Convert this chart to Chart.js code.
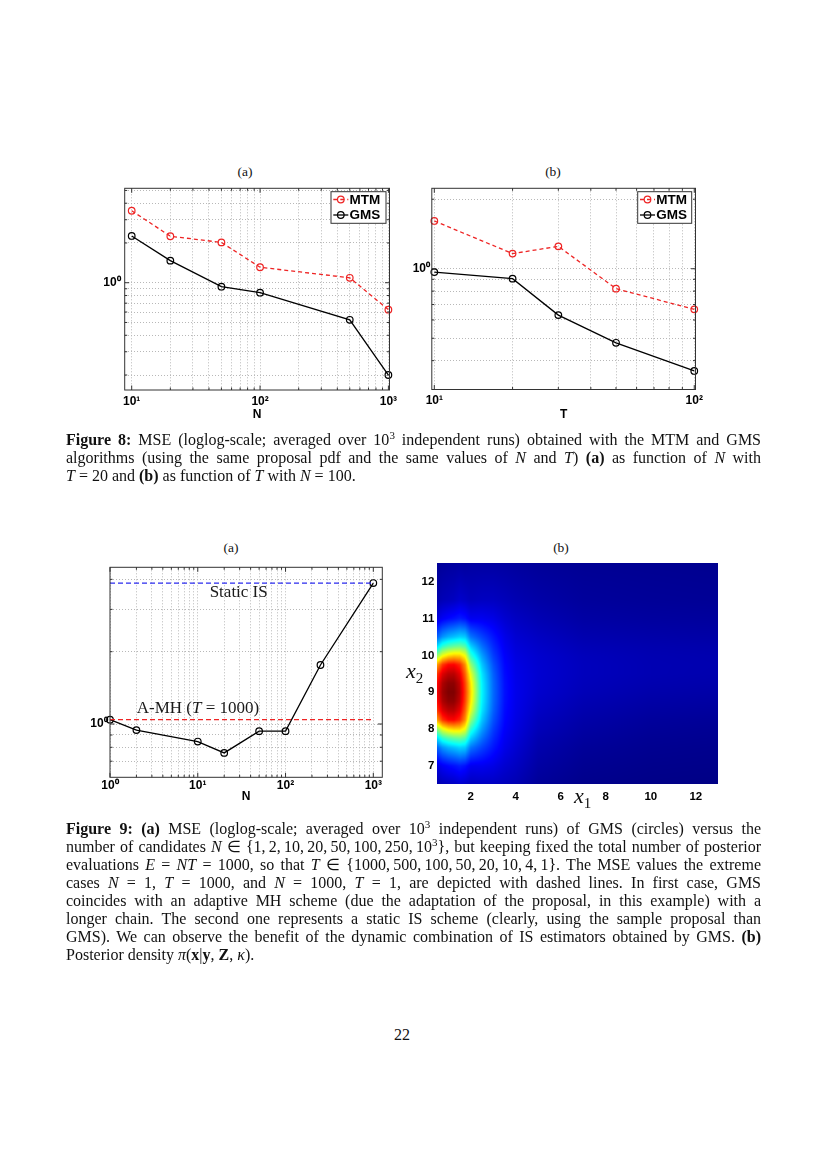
<!DOCTYPE html>
<html><head><meta charset="utf-8">
<script src="https://cdn.jsdelivr.net/npm/chart.js@4.4.1/dist/chart.umd.min.js"></script>
<style>
html,body{margin:0;padding:0;background:#fff}
#page{position:relative;width:827px;height:1169px;overflow:hidden;font-family:"Liberation Serif","Times New Roman",serif;color:#111}
.sub{position:absolute;width:60px;text-align:center;font-size:13.5px;line-height:14px}
.cap{position:absolute;left:66px;width:695px;font-size:16px;line-height:18px}
.cap div{text-align:justify;text-align-last:justify}
.cap div.last{text-align:left;text-align-last:left}
.sp{font-size:11px;vertical-align:6px;line-height:0}
canvas{position:absolute}
.ml{position:absolute;font-style:italic;font-size:22px;line-height:22px;color:#111;white-space:nowrap}
.ml span{font-style:normal;font-size:15px;position:relative;top:5px}
#pnum{position:absolute;left:372px;width:60px;text-align:center;top:1026px;font-size:16px;line-height:18px}
</style></head>
<body><div id="page">
<div class="sub" style="left:215px;top:165px">(a)</div>
<div class="sub" style="left:523px;top:165px">(b)</div>
<canvas id="c8a"></canvas>
<canvas id="c8b"></canvas>
<div class="cap" style="top:431px">
<div><b>Figure 8:</b> MSE (loglog-scale; averaged over 10<span class="sp">3</span> independent runs) obtained with the MTM and GMS</div>
<div>algorithms (using the same proposal pdf and the same values of <i>N</i> and <i>T</i>) <b>(a)</b> as function of <i>N</i> with</div>
<div class="last"><i>T</i> = 20 and <b>(b)</b> as function of <i>T</i> with <i>N</i> = 100.</div>
</div>
<div class="sub" style="left:201px;top:541px">(a)</div>
<div class="sub" style="left:531px;top:541px">(b)</div>
<canvas id="c9a"></canvas>
<canvas id="c9b"></canvas>
<div class="ml" style="left:406px;top:660px">x<span>2</span></div>
<div class="ml" style="left:574px;top:785px">x<span>1</span></div>
<div class="cap" style="top:820px">
<div><b>Figure 9: (a)</b> MSE (loglog-scale; averaged over 10<span class="sp">3</span> independent runs) of GMS (circles) versus the</div>
<div>number of candidates <i>N</i> ∈ {1,&#8201;2,&#8201;10,&#8201;20,&#8201;50,&#8201;100,&#8201;250,&#8201;10<span class="sp">3</span>}, but keeping fixed the total number of posterior</div>
<div>evaluations <i>E</i> = <i>NT</i> = 1000, so that <i>T</i> ∈ {1000,&#8201;500,&#8201;100,&#8201;50,&#8201;20,&#8201;10,&#8201;4,&#8201;1}. The MSE values the extreme</div>
<div>cases <i>N</i> = 1, <i>T</i> = 1000, and <i>N</i> = 1000, <i>T</i> = 1, are depicted with dashed lines. In first case, GMS</div>
<div>coincides with an adaptive MH scheme (due the adaptation of the proposal, in this example) with a</div>
<div>longer chain. The second one represents a static IS scheme (clearly, using the sample proposal than</div>
<div>GMS). We can observe the benefit of the dynamic combination of IS estimators obtained by GMS. <b>(b)</b></div>
<div class="last">Posterior density <i>π</i>(<b>x</b>|<b>y</b>, <b>Z</b>, <i>κ</i>).</div>
</div>
<div id="pnum">22</div>
</div>
<script>
// ---------------- data ----------------
const N8a = [10, 20, 50, 100, 500, 1000];
const mtm8a = [3.51, 2.25, 2.02, 1.31, 1.09, 0.625];
const gms8a = [2.26, 1.47, 0.933, 0.84, 0.524, 0.20];

const T8b = [10, 20, 30, 50, 100];
const mtm8b = [1.61, 1.163, 1.25, 0.82, 0.667];
const gms8b = [0.967, 0.906, 0.63, 0.478, 0.361];

const N9a = [1, 2, 10, 20, 50, 100, 250, 1000];
const gms9a = [1.042, 0.943, 0.845, 0.758, 0.934, 0.934, 1.76, 3.86];
const refN = [1, 1000];
const staticIS = [3.86, 3.86];
const amh = [1.042, 1.042];

// tick / grid positions
const grid8aX = [10,20,30,40,50,60,70,80,90,100,200,300,400,500,600,700,800,900,1000];
const grid8aY = [0.2,0.3,0.4,0.5,0.6,0.7,0.8,0.9,1,2,3,4,5];
const grid8bX = [10,20,30,40,50,60,70,80,90,100];
const grid8bY = [0.4,0.5,0.6,0.7,0.8,0.9,1,2];
const grid9aX = [1,2,3,4,5,6,7,8,9,10,20,30,40,50,60,70,80,90,100,200,300,400,500,600,700,800,900,1000];
const grid9aY = [0.7,0.8,0.9,1,2,3,4];
const ticks9bX = [2,4,6,8,10,12];
const ticks9bY = [7,8,9,10,11,12];

// posterior density grid (columns: x1 values, rows: x2 values), normalised
const hx1 = [0.5,0.75,1,1.25,1.5,1.75,2,2.5,3,3.5,4,5,7,10,13];
const hx2 = [6.5,7,7.5,7.75,8,8.25,8.5,8.75,9,9.25,9.5,9.75,10,10.25,10.5,11,11.5,12.5];
const densityCols = [
 [.044,.093,.22,.339,.51,.713,.817,.862,.88,.862,.817,.713,.51,.339,.22,.093,.044,.022],
 [.055,.116,.272,.417,.606,.825,.908,.955,.97,.955,.908,.825,.606,.417,.272,.116,.055,.027],
 [.06,.13,.30,.45,.65,.87,.94,.985,1,.985,.94,.87,.65,.45,.30,.13,.06,.03],
 [.065,.14,.315,.47,.67,.875,.942,.985,1,.985,.942,.875,.67,.47,.315,.14,.065,.031],
 [.076,.152,.333,.48,.665,.838,.898,.937,.95,.937,.898,.838,.665,.48,.333,.152,.076,.033],
 [.07,.14,.324,.451,.611,.734,.779,.81,.82,.81,.779,.734,.611,.451,.324,.14,.07,.03],
 [.06,.11,.24,.33,.42,.52,.6,.645,.66,.645,.6,.52,.42,.33,.24,.11,.06,.035],
 [.065,.11,.19,.235,.28,.32,.35,.365,.37,.365,.35,.32,.28,.235,.19,.11,.065,.035],
 [.065,.1,.145,.165,.185,.205,.22,.228,.23,.228,.22,.205,.185,.165,.145,.1,.065,.035],
 [.058,.08,.104,.113,.122,.13,.135,.139,.14,.139,.135,.13,.122,.113,.104,.08,.058,.033],
 [.05,.066,.081,.088,.094,.099,.102,.104,.105,.104,.102,.099,.094,.088,.081,.066,.05,.03],
 [.025,.035,.045,.05,.057,.062,.068,.073,.077,.079,.08,.079,.077,.072,.066,.052,.04,.025],
 [.012,.018,.025,.03,.035,.04,.045,.05,.055,.058,.06,.06,.058,.053,.047,.036,.028,.02],
 [.008,.012,.017,.02,.024,.028,.033,.038,.043,.047,.05,.05,.049,.046,.041,.031,.024,.018],
 [.006,.01,.014,.017,.02,.024,.029,.034,.039,.043,.046,.047,.046,.043,.038,.029,.022,.016]
];

// ---------------- helpers ----------------
const SUP = {0:'\u2070',1:'\u00B9',2:'\u00B2',3:'\u00B3'};
function decadeLabel(v){ const e=Math.log10(v), r=Math.round(e); return Math.abs(e-r)<1e-9 ? '10'+(SUP[r]||r) : ''; }
const SANS = '"Liberation Sans", Arial, Helvetica, sans-serif';
const TICK_FONT = {family:SANS, weight:'bold', size:12};
const RED = '#ee2424', BLUE = '#2a2aee';

function place(id, f, yW, xH) {
  const cv = document.getElementById(id);
  const cl = Math.floor(f.L - yW), ct = Math.floor(f.T - 18);
  const w = Math.ceil(f.R + 22) - cl, h = Math.ceil(f.B + xH + 12) - ct;
  cv.width = w; cv.height = h;
  cv.style.left = cl+'px'; cv.style.top = ct+'px'; cv.style.width = w+'px'; cv.style.height = h+'px';
  return {cv, padding:{left:0, top:f.T-ct, right:cl+w-f.R, bottom:ct+h-f.B-xH}, yW:f.L-cl, xH};
}
function axis(kind, type, min, max, vals, pad, size, opts) {
  opts = opts || {};
  return {
    type, min, max,
    afterBuildTicks: s => { s.ticks = vals.map(v => ({value:v})); },
    afterFit: s => { if (kind==='x') s.height = size; else s.width = size; },
    ticks: {autoSkip:false, maxRotation:0, minRotation:0, padding:pad, color:'#000',
            font: opts.font || TICK_FONT, callback: opts.label || (v => decadeLabel(v))},
    grid: {display: opts.grid !== false, color:'#b8b8b8', lineWidth:1, drawTicks:false},
    border: {display:false, dash:[1,2]},
    title: opts.title ? {display:true, text:opts.title, color:'#000', font:{family:SANS, weight:'bold', size:12}, padding:{top:0,bottom:0}} : {display:false}
  };
}
function pts(xs, ys){ return xs.map((x,i)=>({x, y:ys[i]})); }

const framePlugin = {
  id:'frame',
  afterDatasetsDraw(chart, args, o) {
    if (!o || !o.show) return;
    const ctx = chart.ctx, ca = chart.chartArea, xs = chart.scales.x, ys = chart.scales.y;
    ctx.save();
    ctx.strokeStyle = '#333'; ctx.lineWidth = 1; ctx.setLineDash([]);
    ctx.strokeRect(ca.left, ca.top, ca.right-ca.left, ca.bottom-ca.top);
    ctx.beginPath();
    xs.ticks.forEach(t => { const p = xs.getPixelForValue(t.value); const L = decadeLabel(t.value) ? 4.5 : 2.5;
      ctx.moveTo(p, ca.bottom); ctx.lineTo(p, ca.bottom-L); ctx.moveTo(p, ca.top); ctx.lineTo(p, ca.top+L); });
    ys.ticks.forEach(t => { const p = ys.getPixelForValue(t.value); const L = decadeLabel(t.value) ? 4.5 : 2.5;
      ctx.moveTo(ca.left, p); ctx.lineTo(ca.left+L, p); ctx.moveTo(ca.right, p); ctx.lineTo(ca.right-L, p); });
    ctx.stroke();
    ctx.restore();
  }
};
const legendPlugin = {
  id:'matLegend',
  afterDraw(chart, args, o) {
    if (!o || !o.width) return;
    const ctx = chart.ctx, ca = chart.chartArea;
    const x0 = ca.right - o.right - o.width, y0 = ca.top + o.top;
    ctx.save();
    ctx.fillStyle = '#fff'; ctx.fillRect(x0, y0, o.width, o.height);
    ctx.strokeStyle = '#333'; ctx.lineWidth = 1; ctx.strokeRect(x0, y0, o.width, o.height);
    chart.data.datasets.forEach((ds, i) => {
      const cy = y0 + o.rows[i];
      ctx.strokeStyle = ds.borderColor; ctx.lineWidth = ds.borderWidth;
      ctx.setLineDash(ds.borderDash || []);
      ctx.beginPath(); ctx.moveTo(x0+2.3, cy); ctx.lineTo(x0+17.3, cy); ctx.stroke();
      ctx.setLineDash([]); ctx.lineWidth = 1.2;
      ctx.beginPath(); ctx.arc(x0+9.8, cy, 3.3, 0, Math.PI*2); ctx.stroke();
      ctx.fillStyle = '#000'; ctx.font = 'bold 13.5px ' + SANS; ctx.textBaseline = 'middle';
      ctx.fillText(ds.label, x0+18.5, cy+0.5);
    });
    ctx.restore();
  }
};
const annotPlugin = {
  id:'annot',
  afterDatasetsDraw(chart, args, o) {
    if (!o || !o.items) return;
    const ctx = chart.ctx, ca = chart.chartArea, ys = chart.scales.y;
    ctx.save(); ctx.fillStyle = '#1a1a1a'; ctx.textBaseline = 'alphabetic';
    o.items.forEach(it => {
      const fontOf = p => (p.italic ? 'italic ' : '') + '17px "Liberation Serif", serif';
      let total = 0; it.parts.forEach(p => { ctx.font = fontOf(p); total += ctx.measureText(p.t).width; });
      let x = ca.left + it.dx - (it.center ? total/2 : 0);
      const y = ys.getPixelForValue(it.value) + it.dy;
      it.parts.forEach(p => { ctx.font = fontOf(p); ctx.fillText(p.t, x, y); x += ctx.measureText(p.t).width; });
    });
    ctx.restore();
  }
};
function jet(v) {
  v = Math.max(0, Math.min(1, v));
  const c = k => Math.round(255*Math.max(0, Math.min(1, 1.5 - Math.abs(4*v - k))));
  return [c(3), c(2), c(1)];
}
function locate(xs, x) {
  const n = xs.length;
  if (x <= xs[0]) return [0, 0];
  if (x >= xs[n-1]) return [n-2, 1];
  let i = 0; while (x > xs[i+1]) i++;
  return [i, (x - xs[i])/(xs[i+1] - xs[i])];
}
const heatPlugin = {
  id:'heat',
  beforeDatasetsDraw(chart) {
    const ca = chart.chartArea, xs = chart.scales.x, ys = chart.scales.y;
    const W = ca.right-ca.left, H = ca.bottom-ca.top;
    const w = Math.round(W), h = Math.round(H);
    const off = document.createElement('canvas'); off.width = w; off.height = h;
    const octx = off.getContext('2d'); const img = octx.createImageData(w, h); const d = img.data;
    for (let j = 0; j < h; j++) {
      const [jy, ty] = locate(hx2, ys.getValueForPixel(ca.top + (j+0.5)*H/h));
      for (let i = 0; i < w; i++) {
        const [ix, tx] = locate(hx1, xs.getValueForPixel(ca.left + (i+0.5)*W/w));
        const a = densityCols[ix][jy], b = densityCols[ix+1][jy], c = densityCols[ix][jy+1], e = densityCols[ix+1][jy+1];
        const v = (a*(1-tx) + b*tx)*(1-ty) + (c*(1-tx) + e*tx)*ty;
        const col = jet(v), k = (j*w + i)*4;
        d[k] = col[0]; d[k+1] = col[1]; d[k+2] = col[2]; d[k+3] = 255;
      }
    }
    octx.putImageData(img, 0, 0);
    chart.ctx.drawImage(off, ca.left, ca.top, W, H);
  }
};
function baseOptions(P) {
  return {responsive:false, animation:false, events:[],
    layout:{padding:P.padding, autoPadding:false},
    plugins:{legend:{display:false}, tooltip:{enabled:false}}};
}
function lineDS(label, data, color, dash, showPts) {
  return {label, data, borderColor:color, borderWidth:1.3, borderDash:dash, showLine:true, clip:false,
    pointRadius: showPts ? 3.3 : 0, pointBorderWidth:1.2, pointBorderColor:color,
    pointBackgroundColor:'rgba(0,0,0,0)', backgroundColor:'rgba(0,0,0,0)'};
}

// ---------------- Figure 8 (a) ----------------
(function(){
  const P = place('c8a', {L:124.7, T:188.3, R:389.5, B:390}, 40, 32);
  const o = baseOptions(P);
  o.scales = {
    x: axis('x','logarithmic', 8.82, 1020, grid8aX, 4, P.xH, {title:'N'}),
    y: axis('y','logarithmic', 0.154, 5.19, grid8aY, 4, P.yW)
  };
  o.plugins.frame = {show:true};
  o.plugins.matLegend = {width:55, height:31.6, right:3.5, top:3.4, rows:[7.8, 23.3]};
  new Chart(P.cv, {type:'scatter', data:{datasets:[
    lineDS('MTM', pts(N8a, mtm8a), RED, [4,3], true),
    lineDS('GMS', pts(N8a, gms8a), '#000', [], true)
  ]}, options:o, plugins:[framePlugin, legendPlugin]});
})();

// ---------------- Figure 8 (b) ----------------
(function(){
  const P = place('c8b', {L:431.8, T:188.3, R:695.5, B:389.5}, 30, 32);
  const o = baseOptions(P);
  o.scales = {
    x: axis('x','logarithmic', 9.78, 101.1, grid8bX, 4, P.xH, {title:'T'}),
    y: axis('y','logarithmic', 0.305, 2.23, grid8bY, 1.8, P.yW)
  };
  o.plugins.frame = {show:true};
  o.plugins.matLegend = {width:54, height:31.6, right:3.8, top:3.4, rows:[7.8, 23.3]};
  new Chart(P.cv, {type:'scatter', data:{datasets:[
    lineDS('MTM', pts(T8b, mtm8b), RED, [4,3], true),
    lineDS('GMS', pts(T8b, gms8b), '#000', [], true)
  ]}, options:o, plugins:[framePlugin, legendPlugin]});
})();

// ---------------- Figure 9 (a) ----------------
(function(){
  const P = place('c9a', {L:110, T:567.3, R:382.3, B:777.3}, 30, 26.2);
  const o = baseOptions(P);
  o.scales = {
    x: axis('x','logarithmic', 1, 1266, grid9aX, 1.2, P.xH, {title:'N'}),
    y: axis('y','logarithmic', 0.628, 4.49, grid9aY, 2.3, P.yW)
  };
  o.plugins.frame = {show:true};
  o.plugins.annot = {items:[
    {value:staticIS[0], dx:128.7, dy:14, center:true, parts:[{t:'Static IS'}]},
    {value:amh[0], dx:26.7, dy:-6.8, center:false, parts:[{t:'A-MH ('},{t:'T',italic:true},{t:' = 1000)'}]}
  ]};
  new Chart(P.cv, {type:'scatter', data:{datasets:[
    lineDS('Static IS (N = 1000, T = 1)', pts(refN, staticIS), BLUE, [5,3], false),
    lineDS('A-MH (T = 1000)', pts(refN, amh), RED, [5,3], false),
    lineDS('GMS', pts(N9a, gms9a), '#000', [], true)
  ]}, options:o, plugins:[framePlugin, annotPlugin]});
})();

// ---------------- Figure 9 (b) ----------------
(function(){
  const P = place('c9b', {L:437, T:563.3, R:718.3, B:784.3}, 26, 22);
  const o = baseOptions(P);
  const f = {family:SANS, weight:'bold', size:11.5};
  o.scales = {
    x: axis('x','linear', 0.5, 13, ticks9bX, 5.5, P.xH, {grid:false, font:f, label:v=>String(v)}),
    y: axis('y','linear', 6.5, 12.5, ticks9bY, 2.7, P.yW, {grid:false, font:f, label:v=>String(v)})
  };
  new Chart(P.cv, {type:'scatter', data:{datasets:[{label:'posterior density', data:[]}]},
    options:o, plugins:[heatPlugin]});
})();
</script>
</body></html>
